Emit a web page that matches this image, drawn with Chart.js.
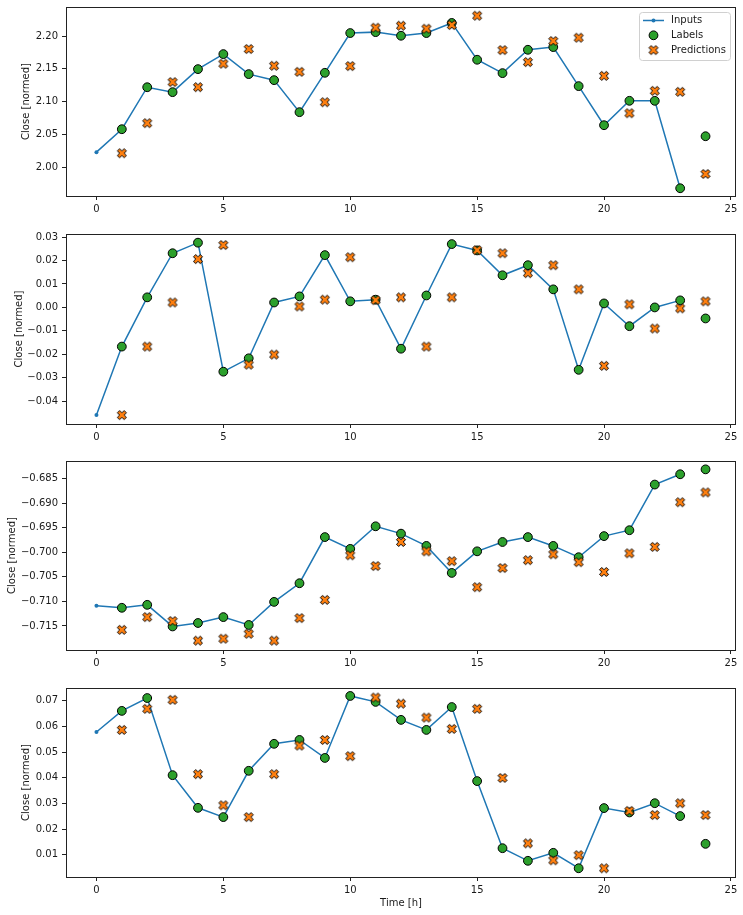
<!DOCTYPE html>
<html>
<head>
<meta charset="utf-8">
<script src="https://cdn.jsdelivr.net/npm/chart.js@4.4.1/dist/chart.umd.min.js"></script>
<style>
  html, body { margin: 0; padding: 0; background: #fff; }
  #wrap { position: relative; width: 743px; height: 915px; overflow: hidden; }
  canvas { position: absolute; left: 0; }
</style>
</head>
<body>
<div id="wrap">
  <canvas id="c1" width="743" height="218" style="top:0px"></canvas>
  <canvas id="c2" width="743" height="220" style="top:226px"></canvas>
  <canvas id="c3" width="743" height="219" style="top:453px"></canvas>
  <canvas id="c4" width="743" height="235" style="top:680px"></canvas>
</div>
<script>
// ==========================================
// Data
// ==========================================
const inputSteps = [0, 1, 2, 3, 4, 5, 6, 7, 8, 9, 10, 11, 12, 13, 14, 15, 16, 17, 18, 19, 20, 21, 22, 23];
const labelSteps = [1, 2, 3, 4, 5, 6, 7, 8, 9, 10, 11, 12, 13, 14, 15, 16, 17, 18, 19, 20, 21, 22, 23, 24];
const xTicks = [0, 5, 10, 15, 20, 25];

// panel 1
const inputs1 = [2.023, 2.058, 2.122, 2.1145, 2.1496, 2.1725, 2.142, 2.1328, 2.084, 2.144, 2.2046, 2.206, 2.2005, 2.2046, 2.220, 2.1639, 2.1435, 2.1791, 2.1832, 2.1237, 2.0641, 2.1013, 2.1013, 1.968];
const labels1 = [2.058, 2.122, 2.1145, 2.1496, 2.1725, 2.142, 2.1328, 2.084, 2.144, 2.2046, 2.206, 2.2005, 2.2046, 2.220, 2.1639, 2.1435, 2.1791, 2.1832, 2.1237, 2.0641, 2.1013, 2.1013, 1.968, 2.0473];
const preds1 = [2.0214, 2.0672, 2.1298, 2.1221, 2.1578, 2.1802, 2.1547, 2.1455, 2.0992, 2.1542, 2.2127, 2.2158, 2.2112, 2.2168, 2.231, 2.1786, 2.1603, 2.1924, 2.1975, 2.1394, 2.0824, 2.1165, 2.115, 1.9898];
const yTicks1 = [2.00, 2.05, 2.10, 2.15, 2.20];

// panel 2
const inputs2 = [-0.0459, -0.0167, 0.0043, 0.0231, 0.0276, -0.0274, -0.0217, 0.0021, 0.0047, 0.0223, 0.0026, 0.0033, -0.0176, 0.0051, 0.027, 0.0243, 0.0137, 0.018, 0.0077, -0.0266, 0.0017, -0.008, 0.0, 0.003];
const labels2 = [-0.0167, 0.0043, 0.0231, 0.0276, -0.0274, -0.0217, 0.0021, 0.0047, 0.0223, 0.0026, 0.0033, -0.0176, 0.0051, 0.027, 0.0243, 0.0137, 0.018, 0.0077, -0.0266, 0.0017, -0.008, 0.0, 0.003, -0.0047];
const preds2 = [-0.0459, -0.0167, 0.0021, 0.0206, 0.0266, -0.0244, -0.0201, 0.0004, 0.0033, 0.0214, 0.0031, 0.0043, -0.0167, 0.0043, 0.0244, 0.0231, 0.0146, 0.018, 0.0077, -0.0249, 0.0013, -0.009, -0.0004, 0.0026];
const yTicks2 = [-0.04, -0.03, -0.02, -0.01, 0.00, 0.01, 0.02, 0.03];

// panel 3
const inputs3 = [-0.7109, -0.7113, -0.7107, -0.7151, -0.7144, -0.7132, -0.7148, -0.7101, -0.7063, -0.6969, -0.6993, -0.6947, -0.6962, -0.6987, -0.7042, -0.6998, -0.6979, -0.6969, -0.6987, -0.701, -0.6967, -0.6955, -0.6862, -0.6841];
const labels3 = [-0.7113, -0.7107, -0.7151, -0.7144, -0.7132, -0.7148, -0.7101, -0.7063, -0.6969, -0.6993, -0.6947, -0.6962, -0.6987, -0.7042, -0.6998, -0.6979, -0.6969, -0.6987, -0.701, -0.6967, -0.6955, -0.6862, -0.6841, -0.6831];
const preds3 = [-0.7158, -0.7132, -0.714, -0.718, -0.7176, -0.7166, -0.718, -0.7134, -0.7097, -0.7006, -0.7028, -0.6979, -0.6998, -0.7018, -0.7071, -0.7032, -0.7016, -0.7004, -0.702, -0.704, -0.7002, -0.6989, -0.6898, -0.6878];
const yTicks3 = [-0.715, -0.710, -0.705, -0.700, -0.695, -0.690, -0.685];

// panel 4
const inputs4 = [0.0578, 0.066, 0.071, 0.041, 0.0283, 0.0247, 0.0427, 0.0532, 0.0547, 0.0477, 0.0718, 0.0695, 0.0625, 0.0586, 0.0675, 0.0387, 0.0126, 0.0077, 0.0108, 0.0048, 0.0282, 0.0265, 0.0301, 0.0251];
const labels4 = [0.066, 0.071, 0.041, 0.0283, 0.0247, 0.0427, 0.0532, 0.0547, 0.0477, 0.0718, 0.0695, 0.0625, 0.0586, 0.0675, 0.0387, 0.0126, 0.0077, 0.0108, 0.0048, 0.0282, 0.0265, 0.0301, 0.0251, 0.0143];
const preds4 = [0.0586, 0.0668, 0.0703, 0.0414, 0.0293, 0.0247, 0.0414, 0.0525, 0.0547, 0.0484, 0.0712, 0.0688, 0.0634, 0.059, 0.0668, 0.0399, 0.0145, 0.0079, 0.0099, 0.0048, 0.0271, 0.0255, 0.0301, 0.0255];
const yTicks4 = [0.01, 0.02, 0.03, 0.04, 0.05, 0.06, 0.07];

// ==========================================
// Styles
// ==========================================
const BLUE = "#1f77b4";
const GREEN = "#2ca02c";
const ORANGE = "#ff7f0e";
const TEXT = "#1a1a1a";
const FONT = "DejaVu Sans";

// filled "X" marker like matplotlib's
function makeXMarker(size) {
    const c = document.createElement("canvas");
    c.width = 14;
    c.height = 14;
    const g = c.getContext("2d");
    const pts = [[-1,-3],[1,-3],[1,-1],[3,-1],[3,1],[1,1],[1,3],[-1,3],[-1,1],[-3,1],[-3,-1],[-1,-1]];
    const k = size / 6, r = Math.SQRT1_2;
    g.beginPath();
    pts.forEach(([x, y], i) => {
        const px = 7 + (x - y) * r * k;
        const py = 7 + (x + y) * r * k;
        if (i === 0) g.moveTo(px, py); else g.lineTo(px, py);
    });
    g.closePath();
    g.fillStyle = ORANGE;
    g.fill();
    g.lineWidth = 1;
    g.strokeStyle = "#000";
    g.stroke();
    return c;
}
const xMarker = makeXMarker(9.6);

// full box around the plot area
const framePlugin = {
    id: "frame",
    beforeDatasetsDraw(chart) {
        const a = chart.chartArea;
        const ctx = chart.ctx;
        ctx.save();
        ctx.strokeStyle = "#222";
        ctx.lineWidth = 1;
        ctx.strokeRect(Math.round(a.left) + 0.5, Math.round(a.top) + 0.5,
            Math.round(a.right - a.left) - 1, Math.round(a.bottom - a.top));
        ctx.restore();
    }
};

// legend drawn inside the first panel (upper right)
const insideLegend = {
    id: "insideLegend",
    afterDraw(chart) {
        const ctx = chart.ctx;
        const x0 = 639.5, y0 = 12.5, w = 91, h = 48;
        ctx.save();
        ctx.beginPath();
        ctx.roundRect(x0, y0, w, h, 3);
        ctx.fillStyle = "rgba(255,255,255,0.85)";
        ctx.fill();
        ctx.strokeStyle = "#d0d0d0";
        ctx.lineWidth = 1;
        ctx.stroke();

        const mx = 653.5;
        const rows = [20.5, 35.3, 50.1];
        // Inputs
        ctx.beginPath();
        ctx.moveTo(643, rows[0]);
        ctx.lineTo(664, rows[0]);
        ctx.strokeStyle = BLUE;
        ctx.lineWidth = 1.5;
        ctx.stroke();
        ctx.beginPath();
        ctx.arc(mx, rows[0], 2, 0, Math.PI * 2);
        ctx.fillStyle = BLUE;
        ctx.fill();
        // Labels
        ctx.beginPath();
        ctx.arc(mx, rows[1], 4.4, 0, Math.PI * 2);
        ctx.fillStyle = GREEN;
        ctx.fill();
        ctx.strokeStyle = "#000";
        ctx.lineWidth = 1;
        ctx.stroke();
        // Predictions
        ctx.drawImage(xMarker, mx - 7, rows[2] - 7);

        ctx.fillStyle = TEXT;
        ctx.font = "10px '" + FONT + "'";
        ctx.textBaseline = "middle";
        ctx.textAlign = "left";
        ctx.fillText("Inputs", 671, rows[0]);
        ctx.fillText("Labels", 671, rows[1]);
        ctx.fillText("Predictions", 671, rows[2]);
        ctx.restore();
    }
};

function fmt(v, d) {
    const s = Math.abs(v) < 1e-9 ? (0).toFixed(d) : v.toFixed(d);
    return s.replace("-", "\u2212");
}

// =====================================================
// Build one panel
// =====================================================
function makePanel(id, p) {
    const pts = (xs, ys) => ys.map((y, i) => ({ x: xs[i], y: y }));
    const plugins = [framePlugin];
    if (p.legend) plugins.push(insideLegend);

    return new Chart(document.getElementById(id), {
        type: "line",
        data: {
            datasets: [
                {
                    label: "Inputs",
                    data: pts(inputSteps, p.inputs),
                    borderColor: BLUE,
                    backgroundColor: BLUE,
                    borderWidth: 1.5,
                    pointRadius: 2,
                    pointBorderWidth: 0,
                    tension: 0,
                    order: 3
                },
                {
                    label: "Labels",
                    data: pts(labelSteps, p.labels),
                    showLine: false,
                    pointStyle: "circle",
                    pointRadius: 4.4,
                    backgroundColor: GREEN,
                    borderColor: "#000",
                    pointBorderWidth: 1,
                    order: 2
                },
                {
                    label: "Predictions",
                    data: pts(labelSteps, p.preds),
                    showLine: false,
                    pointStyle: xMarker,
                    backgroundColor: ORANGE,
                    borderColor: "#000",
                    order: 1
                }
            ]
        },
        options: {
            responsive: false,
            animation: false,
            devicePixelRatio: 1,
            layout: { padding: { top: p.padTop, left: p.padLeft, right: 7, bottom: p.padBottom } },
            plugins: { legend: { display: false }, tooltip: { enabled: false } },
            scales: {
                x: {
                    type: "linear",
                    min: -1.2,
                    max: 25.2,
                    border: { display: false },
                    grid: { drawOnChartArea: false, drawTicks: true, tickLength: 4, color: "#222" },
                    ticks: { color: TEXT, font: { family: FONT, size: 10 }, padding: 3, maxRotation: 0,
                        callback: v => String(v) },
                    afterBuildTicks: s => { s.ticks = xTicks.map(v => ({ value: v })); },
                    afterFit: s => {
                        s.height = p.xHeight;
                        s.paddingLeft = 0;
                        s.paddingRight = 0;
                    },
                    title: { display: !!p.xTitle, text: p.xTitle || "", color: TEXT,
                        font: { family: FONT, size: 10 }, padding: 0 }
                },
                y: {
                    min: p.yMin,
                    max: p.yMax,
                    border: { display: false },
                    grid: { drawOnChartArea: false, drawTicks: true, tickLength: 4, color: "#222" },
                    ticks: { color: TEXT, font: { family: FONT, size: 10 }, padding: 4,
                        callback: v => fmt(v, p.dec) },
                    afterBuildTicks: s => { s.ticks = p.yTicks.map(v => ({ value: v })); },
                    afterFit: s => {
                        s.width = 66 - p.padLeft;
                        s.paddingTop = 0;
                        s.paddingBottom = 0;
                    },
                    title: { display: true, text: "Close [normed]", color: TEXT,
                        font: { family: FONT, size: 10 }, padding: 0 }
                }
            }
        },
        plugins: plugins
    });
}

makePanel("c1", { inputs: inputs1, labels: labels1, preds: preds1, yTicks: yTicks1, dec: 2,
    yMin: 1.9562, yMax: 2.2443, padTop: 7, padLeft: 20.7, padBottom: 0, xHeight: 22, legend: true });
makePanel("c2", { inputs: inputs2, labels: labels2, preds: preds2, yTicks: yTicks2, dec: 2,
    yMin: -0.0497, yMax: 0.0313, padTop: 8, padLeft: 13, padBottom: 0, xHeight: 22 });
makePanel("c3", { inputs: inputs3, labels: labels3, preds: preds3, yTicks: yTicks3, dec: 3,
    yMin: -0.7199, yMax: -0.6814, padTop: 8, padLeft: 6, padBottom: 0, xHeight: 22 });
makePanel("c4", { inputs: inputs4, labels: labels4, preds: preds4, yTicks: yTicks4, dec: 2,
    yMin: 0.0014, yMax: 0.0749, padTop: 8, padLeft: 20.8, padBottom: 6, xHeight: 32, xTitle: "Time [h]" });
</script>
</body>
</html>
